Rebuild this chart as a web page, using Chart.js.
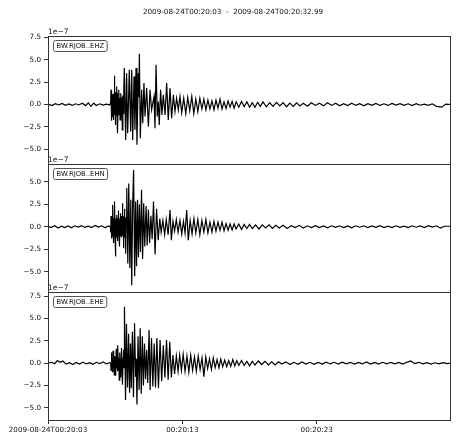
<!DOCTYPE html>
<html>
<head>
<meta charset="utf-8">
<script src="https://cdn.jsdelivr.net/npm/chart.js@4.4.1/dist/chart.umd.min.js"></script>
<style>
  html, body { margin: 0; padding: 0; background: #fff; }
  #wrap { position: relative; width: 474px; height: 444px; }
  #wrap canvas { position: absolute; left: 0; top: 0; }
</style>
</head>
<body>
<div id="wrap">
  <canvas id="ehz" width="474" height="444"></canvas>
  <canvas id="ehn" width="474" height="444"></canvas>
  <canvas id="ehe" width="474" height="444"></canvas>
</div>
<script>
// Trace data, seconds after 2009-08-24T00:20:03, amplitude in units of 1e-7
const titleText = '2009-08-24T00:20:03  -  2009-08-24T00:20:32.99';
const channelNames = ['BW.RJOB..EHZ', 'BW.RJOB..EHN', 'BW.RJOB..EHE'];
const xTickValues = [0, 10, 20];
const xTickLabels = ['2009-08-24T00:20:03', '00:20:13', '00:20:23'];
const traceEnd = 29.99;

const ehzRange = [-6.64, 7.65];
const ehnRange = [-7.26, 6.97];
const eheRange = [-6.34, 7.95];
const ehzTicks = [-5, -2.5, 0, 2.5, 5, 7.5];
const ehnTicks = [-5, -2.5, 0, 2.5, 5];
const eheTicks = [-5, -2.5, 0, 2.5, 5, 7.5];

const ehzTimes = [
  0, 0.3, 0.55, 0.8, 1.05, 1.3, 1.55, 1.8, 2.05, 2.3, 2.55, 2.8, 3.0, 3.2, 3.4, 3.6, 3.85, 4.1, 4.35, 4.6,
  4.66, 4.69, 4.72, 4.74, 4.77, 4.79, 4.82, 4.84, 4.86, 4.9, 4.92, 4.94, 4.97, 4.99, 5.01, 5.04, 5.07, 5.11,
  5.14, 5.16, 5.18, 5.22, 5.25, 5.28, 5.32, 5.34, 5.36, 5.4, 5.43, 5.47, 5.5, 5.53, 5.57, 5.6, 5.64,
  5.68, 5.78, 5.85, 5.93, 6.05, 6.15,
  6.23, 6.3, 6.4, 6.47, 6.55, 6.62, 6.72, 6.76, 6.8, 6.87, 6.97, 7.05, 7.14, 7.22, 7.34, 7.47, 7.59, 7.71,
  7.89, 7.96, 8.04, 8.13, 8.21, 8.28, 8.38, 8.48, 8.58, 8.71, 8.83, 8.95, 9.08, 9.2, 9.33, 9.45, 9.57, 9.7,
  9.82, 9.95, 10.1, 10.25, 10.4, 10.55, 10.7, 10.85, 11.0, 11.15, 11.3, 11.45, 11.6, 11.75, 11.9, 12.05,
  12.2, 12.35, 12.5, 12.65, 12.8, 12.95, 13.1, 13.25, 13.4, 13.55, 13.7, 13.85, 14.0, 14.2, 14.4, 14.6,
  14.8, 15.0, 15.2, 15.4, 15.6, 15.8, 16.0, 16.25, 16.5, 16.75, 17.0, 17.25, 17.5, 17.75, 18.0, 18.25,
  18.5, 18.75, 19.0, 19.3, 19.6, 19.9, 20.2, 20.5, 20.8, 21.1, 21.4, 21.7, 22.0, 22.3, 22.6, 22.9, 23.2,
  23.5, 23.8, 24.1, 24.4, 24.7, 25.0, 25.3, 25.6, 25.9, 26.2, 26.5, 26.8, 27.1, 27.4, 27.7, 28.0, 28.3,
  28.6, 28.9, 29.3, 29.6, 29.99
];
const ehzValues = [
  0.05, -0.12, 0.1, -0.05, 0.12, -0.08, 0.06, -0.1, 0.08, -0.05, 0.15, -0.12, 0.18, -0.2, 0.15, -0.1, 0.08, -0.06, 0.05, -0.05,
  0.2, 1.64, -1.8, 0.5, -1.34, 1.08, -0.6, 1.2, -1.72, 0.9, -1.1, 3.2, -0.8, 1.4, -2.28, 0.6, -1.2, 2.0,
  -1.0, 1.3, -3.2, 0.8, -1.2, 1.64, -0.9, 0.7, -1.72, -0.5, 1.27, -1.3, 0.8, -2.83, 1.0, -1.0, 1.5,
  4.07, -3.95, 3.5, -3.2, 3.88, -3.0,
  3.88, -3.95, 3.13, -2.83, 4.07, -4.5, 3.5, 0.8, 5.67, -3.77, 1.64, -2.09, 2.39, -1.34, 1.83, -2.46, 1.64, -0.6,
  0.9, -2.65, 4.44, -1.34, 0.34, -2.28, 1.64, -1.16, 1.08, -1.16, 2.39, -1.72, 1.83, -1.53, 1.08, -0.78, 0.71, -0.6,
  0.9, -0.9, 0.7, -1.0, 0.8, -0.7, 0.9, -1.0, 0.6, -0.8, 0.7, -0.5, 0.6, -0.6, 0.5, -0.5,
  0.4, -0.6, 0.5, -0.4, 0.6, -0.5, 0.3, -0.45, 0.4, -0.3, 0.35, -0.4, 0.3, -0.3, 0.35, -0.25,
  0.3, -0.3, 0.2, -0.3, 0.25, -0.2, 0.3, -0.25, 0.2, -0.2, 0.25, -0.15, 0.2, -0.25, 0.15, -0.2,
  0.2, -0.15, 0.15, -0.2, 0.2, -0.1, 0.15, -0.15, 0.2, -0.1, 0.15, -0.15, 0.1, -0.12, 0.15, -0.1, 0.1,
  -0.15, 0.1, -0.08, 0.12, -0.1, 0.08, -0.1, 0.12, -0.06, 0.1, -0.1, 0.08, -0.12, 0.1, -0.08, 0.05, -0.1,
  0.08, -0.2, -0.3, 0.05, 0.0
];

const ehnTimes = [
  0, 0.25, 0.5, 0.75, 1.0, 1.25, 1.5, 1.75, 2.0, 2.25, 2.5, 2.75, 3.0, 3.25, 3.5, 3.75, 4.0, 4.25, 4.5,
  4.64, 4.67, 4.69, 4.72, 4.75, 4.78, 4.8, 4.82, 4.85, 4.87, 4.89, 4.92, 4.94, 4.96, 4.99, 5.01, 5.03,
  5.06, 5.08, 5.1, 5.13, 5.15, 5.18, 5.21, 5.23, 5.26, 5.29, 5.31, 5.33, 5.36, 5.38, 5.4, 5.43, 5.45,
  5.48, 5.51, 5.53, 5.55, 5.58, 5.6, 5.63, 5.66, 5.68, 5.7, 5.73, 5.75, 5.78, 5.82, 5.86,
  5.94, 6.01, 6.09, 6.16, 6.23, 6.3, 6.37, 6.45, 6.52, 6.59, 6.66, 6.73, 6.8, 6.88, 6.96, 7.04, 7.12, 7.2,
  7.3, 7.38, 7.47, 7.56, 7.66, 7.75, 7.85, 7.97, 8.08, 8.2, 8.32, 8.42, 8.55, 8.68, 8.8, 8.94, 9.08, 9.18,
  9.3, 9.42, 9.55, 9.68, 9.82, 9.95, 10.08, 10.2, 10.32, 10.44,
  10.58, 10.72, 10.86, 11.0, 11.15, 11.3, 11.45, 11.6, 11.75, 11.9, 12.05, 12.2, 12.35, 12.5, 12.65, 12.8,
  12.95, 13.1, 13.25, 13.4, 13.55, 13.7, 13.85, 14.0, 14.2, 14.4, 14.6, 14.8, 15.0, 15.2, 15.45, 15.7,
  15.95, 16.2, 16.45, 16.7, 16.95, 17.2, 17.5, 17.8, 18.1, 18.4, 18.7, 19.0, 19.3, 19.6, 19.9, 20.2, 20.5,
  20.8, 21.1, 21.4, 21.7, 22.0, 22.3, 22.6, 22.9, 23.2, 23.5, 23.8, 24.1, 24.4, 24.7, 25.0, 25.3, 25.6,
  25.9, 26.2, 26.5, 26.8, 27.1, 27.4, 27.7, 28.0, 28.3, 28.6, 28.9, 29.2, 29.5, 29.99
];
const ehnValues = [
  0.0, -0.08, 0.1, -0.15, 0.05, -0.1, 0.08, -0.12, 0.1, -0.05, 0.12, -0.08, 0.06, -0.1, 0.15, -0.05, 0.1, -0.12, 0.08,
  0.0, -0.6, 1.2, -1.3, 0.4, -1.0, 0.8, 2.4, -0.9, 0.6, -1.8, 1.0, -0.7, 2.8, -1.2, 0.5, -3.3,
  0.9, -0.8, 1.3, -1.2, 0.8, -1.6, 1.0, -0.9, 1.8, -1.0, 0.7, -2.2, 0.9, -0.8, 1.5, -1.1, 1.2,
  -1.2, 1.0, -0.9, 2.6, -1.0, 1.1, -2.4, 1.2, -1.0, 2.0, -1.2, 1.0, -3.0, 1.0, 4.3,
  -4.1, 4.8, -4.6, 3.0, -6.5, 2.5, 6.3, -5.5, 2.8, -4.4, 3.0, -3.4, 2.5, -2.8, 4.1, -3.6, 2.6, -2.2,
  2.3, -2.1, 1.9, -1.8, 1.2, -1.4, 2.8, -3.1, 2.0, -1.5, 0.9, -0.6, 0.7, -0.9, 0.8, -0.9, 1.85, -1.5,
  0.6, -0.5, 0.8, -0.6, 0.7, -0.8, 0.6, -0.7, 1.85, -1.5,
  0.7, -0.8, 0.9, -0.7, 0.8, -0.9, 0.7, -0.6, 0.8, -0.7, 0.5, -0.6, 0.6, -0.5, 0.5, -0.4,
  0.5, -0.45, 0.35, -0.4, 0.3, -0.35, 0.3, -0.25, 0.3, -0.3, 0.25, -0.2, 0.25, -0.2, 0.2, -0.25,
  0.2, -0.15, 0.2, -0.2, 0.15, -0.15, 0.15, -0.2, 0.12, -0.1, 0.15, -0.15, 0.1, -0.1, 0.12, -0.1, 0.08,
  -0.12, 0.1, -0.08, 0.1, -0.1, 0.08, -0.12, 0.1, -0.06, 0.1, -0.1, 0.08, -0.08, 0.12, -0.1, 0.06, -0.1,
  0.1, -0.08, 0.05, -0.1, 0.1, -0.06, 0.08, -0.1, 0.12, -0.05, 0.1, -0.15, 0.05, 0.05
];

const eheTimes = [
  0, 0.25, 0.5, 0.7, 0.9, 1.1, 1.35, 1.6, 1.85, 2.1, 2.35, 2.6, 2.85, 3.1, 3.35, 3.6, 3.85, 4.1, 4.35, 4.6,
  4.66, 4.69, 4.72, 4.75, 4.78, 4.81, 4.84, 4.87, 4.9, 4.93, 4.96, 4.99, 5.02, 5.05, 5.08, 5.11, 5.14,
  5.17, 5.2, 5.24, 5.27, 5.3, 5.34, 5.37, 5.4, 5.43, 5.47, 5.51, 5.53, 5.55, 5.59, 5.62, 5.66, 5.69,
  5.77, 5.84, 5.92, 6.0, 6.07, 6.14, 6.2, 6.28, 6.36, 6.44, 6.52, 6.56, 6.62, 6.7, 6.78, 6.86, 6.94, 7.02,
  7.1, 7.18, 7.26, 7.34, 7.42, 7.52, 7.6, 7.7, 7.8, 7.9, 8.0, 8.1, 8.22, 8.34, 8.46, 8.58, 8.7, 8.82, 8.94,
  9.06, 9.18, 9.3,
  9.42, 9.55, 9.68, 9.8, 9.93, 10.06, 10.2, 10.34, 10.48, 10.62, 10.76, 10.9, 11.04, 11.18, 11.32, 11.46,
  11.6, 11.74, 11.88, 12.02, 12.16, 12.3, 12.44, 12.58, 12.72, 12.86, 13.0, 13.15, 13.3, 13.45, 13.6, 13.75,
  13.9, 14.05, 14.2, 14.4, 14.6, 14.8, 15.0, 15.2, 15.4, 15.65, 15.9, 16.15, 16.4, 16.65, 16.9, 17.15, 17.4,
  17.7, 18.0, 18.3, 18.6, 18.9, 19.2, 19.5, 19.8, 20.1, 20.4, 20.7, 21.0, 21.3, 21.6, 21.9, 22.2, 22.5, 22.8,
  23.1, 23.4, 23.7, 24.0, 24.3, 24.6, 24.9, 25.2, 25.5, 25.8, 26.1, 26.4, 26.7, 27.0, 27.3, 27.6, 27.9, 28.2,
  28.5, 28.8, 29.1, 29.4, 29.7, 29.99
];
const eheValues = [
  0.0, 0.1, -0.05, 0.3, 0.1, 0.25, -0.1, 0.05, -0.15, 0.08, -0.1, 0.12, -0.08, 0.05, -0.12, 0.1, -0.05, 0.15, -0.08, 0.05,
  0.0, -0.8, 1.2, -0.5, 0.6, -1.0, 1.4, -0.6, 0.5, -1.3, 0.8, -0.6, 0.7, -1.4, 1.6, -0.6, 0.5,
  -0.9, 2.0, -0.7, 0.6, -1.9, 1.2, -0.6, 0.4, -1.6, 1.7, -0.8, 0.4, -2.4, 0.6, 1.5, -0.5, 6.3,
  -4.1, 4.4, -2.7, 3.3, -3.3, 2.2, -2.8, 3.5, -3.8, 4.45, -1.5, 0.5, -4.6, 3.0, -3.0, 3.9, -3.4, 3.0,
  -2.5, 2.2, -1.8, 1.5, -2.2, 3.7, -3.0, 2.8, -2.6, 2.2, -2.7, 2.8, -2.8, 2.6, -2.0, 2.0, -1.6, 2.6, -1.85,
  2.4, -1.6, 0.9,
  -1.2, 0.8, -0.9, 0.9, -0.8, 1.0, -0.9, 0.8, -1.0, 0.9, -0.8, 0.7, -0.9, 0.8, -0.7, 0.6,
  -1.5, 0.7, -0.6, 0.5, -0.7, 0.6, -0.5, 0.4, -0.5, 0.45, -0.4, 0.35, -0.4, 0.3, -0.35, 0.4,
  -0.3, 0.3, -0.25, 0.3, -0.25, 0.2, -0.3, 0.2, -0.2, 0.25, -0.15, 0.2, -0.2, 0.15, -0.2, 0.15, -0.1,
  0.15, -0.15, 0.1, -0.12, 0.15, -0.1, 0.1, -0.12, 0.08, -0.1, 0.12, -0.08, 0.1, -0.1, 0.12, -0.06, 0.1, -0.1,
  0.08, -0.08, 0.15, -0.1, 0.08, -0.1, 0.1, -0.08, 0.1, -0.06, 0.08, -0.1, 0.1, 0.25, -0.05, 0.1, -0.08, 0.06,
  -0.1, 0.05, -0.08, 0.06, -0.05, 0.0
];

Chart.defaults.font.family = "'DejaVu Sans', sans-serif";
Chart.defaults.font.size = 7.2;
Chart.defaults.color = '#111';

const minusFmt = v => (v < 0 ? '\u2212' : '') + Math.abs(v).toFixed(1);

// frame, channel label box, offset text and figure title
const decorPlugin = {
  id: 'decor',
  afterDraw(chart, args, opts) {
    const { ctx, chartArea: a } = chart;
    ctx.save();
    ctx.strokeStyle = '#333';
    ctx.lineWidth = 1;
    ctx.strokeRect(a.left + 0.5, a.top + 0.5, a.right - a.left - 1, a.bottom - a.top);

    // channel label
    ctx.font = "6.8px 'DejaVu Sans'";
    const tw = ctx.measureText(opts.name).width;
    const bx = a.left + 5.5, by = a.top + 4.5, bw = tw + 6, bh = 11;
    ctx.beginPath();
    ctx.roundRect(bx, by, bw, bh, 2);
    ctx.fillStyle = '#fff';
    ctx.fill();
    ctx.strokeStyle = '#555';
    ctx.stroke();
    ctx.fillStyle = '#111';
    ctx.textAlign = 'left';
    ctx.textBaseline = 'middle';
    ctx.fillText(opts.name, bx + 3, by + bh / 2 + 0.5);

    // offset text
    ctx.font = "7.5px 'DejaVu Sans'";
    ctx.textBaseline = 'alphabetic';
    ctx.fillText('1e\u22127', a.left, a.top - 2.5);

    if (opts.title) {
      ctx.font = "7.2px 'DejaVu Sans'";
      ctx.textAlign = 'center';
      ctx.textBaseline = 'middle';
      ctx.fillText(opts.title, 233, 12.5);
    }
    ctx.restore();
  }
};

function makePanel(id, times, values, range, yTicks, name, top, bottom, isLast, title) {
  const xHeight = isLast ? 14 : 0;
  return new Chart(document.getElementById(id), {
    type: 'line',
    data: {
      datasets: [{
        data: times.map((t, i) => ({ x: t, y: values[i] })),
        borderColor: '#000',
        borderWidth: 1.2,
        pointRadius: 0,
        tension: 0,
        fill: false
      }]
    },
    options: {
      responsive: false,
      animation: false,
      devicePixelRatio: 1,
      layout: { padding: { top: top, bottom: 444 - bottom - xHeight, left: 0, right: 23 } },
      plugins: {
        legend: { display: false },
        tooltip: { enabled: false },
        decor: { name: name, title: title }
      },
      scales: {
        x: {
          type: 'linear',
          min: 0,
          max: traceEnd,
          afterBuildTicks: s => { s.ticks = xTickValues.map(v => ({ value: v })); },
          afterFit: s => { s.height = xHeight; },
          ticks: {
            display: isLast,
            autoSkip: false,
            maxRotation: 0,
            padding: 2,
            callback: (v, i) => xTickLabels[i]
          },
          grid: { drawOnChartArea: false, drawTicks: isLast, tickLength: 4, color: '#333', tickColor: '#333' },
          border: { display: false }
        },
        y: {
          type: 'linear',
          min: range[0],
          max: range[1],
          afterBuildTicks: s => { s.ticks = yTicks.map(v => ({ value: v })); },
          afterFit: s => { s.width = 48; },
          ticks: { padding: 3, callback: v => minusFmt(v) },
          grid: { drawOnChartArea: false, tickLength: 4, color: '#333', tickColor: '#333' },
          border: { display: false }
        }
      }
    },
    plugins: [decorPlugin]
  });
}

makePanel('ehz', ehzTimes, ehzValues, ehzRange, ehzTicks, channelNames[0], 36, 164, false, titleText);
makePanel('ehn', ehnTimes, ehnValues, ehnRange, ehnTicks, channelNames[1], 164, 292, false, null);
makePanel('ehe', eheTimes, eheValues, eheRange, eheTicks, channelNames[2], 292, 420, true, null);
</script>
</body>
</html>
